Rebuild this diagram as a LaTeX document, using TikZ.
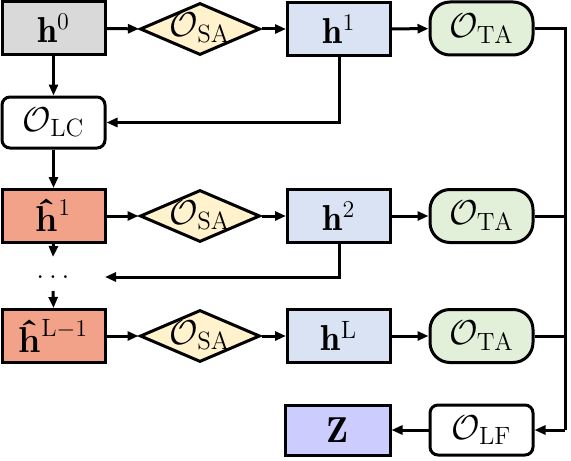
\documentclass[tikz,border=0pt]{standalone}
\usepackage{amsmath}
\usepackage{fontspec}
\usetikzlibrary{shapes.geometric,arrows.meta}
\DeclareMathSizes{18}{18}{12.5}{9}
\definecolor{cgray}{HTML}{D9D9D9}
\definecolor{cyel}{HTML}{FFF2CC}
\definecolor{cblue}{HTML}{DAE3F3}
\definecolor{cgreen}{HTML}{E2F0D9}
\definecolor{csalmon}{HTML}{F3A28A}
\definecolor{cviolet}{HTML}{CCCCFF}
\tikzset{
  base/.style={draw=black, line width=1.5pt, inner sep=0pt, font=\fontsize{18}{21}\selectfont},
  sqbox/.style={base, rectangle, minimum width=51.5pt, minimum height=26.5pt},
  rbox/.style={base, rectangle, rounded corners=4pt, minimum width=51.5pt, minimum height=25.5pt, fill=white},
  tabox/.style={base, rectangle, rounded corners=10pt, minimum width=51.5pt, minimum height=26.5pt, fill=cgreen},
  sabox/.style={base, diamond, aspect=2.3, minimum width=60pt, minimum height=26pt, fill=cyel},
  conn/.style={line width=1.5pt, -{Triangle[length=5.5pt,width=4.5pt]}},
  plainconn/.style={line width=1.5pt}
}
\newcommand{\dmtext}[1]{\smash{\raisebox{-4pt}{\makebox[0pt]{#1}}}}
\newcommand{\hhat}{{\smash{\text{\bfseries ĥ}}\vphantom{\mathbf{h}}}}
\begin{document}
\begin{tikzpicture}[x=0.5pt,y=-0.5pt]
\useasboundingbox (0,0) rectangle (571,460);
% row 1
\node[sqbox, fill=cgray] (h0) at (53.5,28.5) {$\mathbf{h}^{0}$};
\node[sabox] (sa1) at (200,29) {\dmtext{$\mathcal{O}_{\mathrm{SA}}$}};
\node[sqbox, fill=cblue] (h1) at (339,29) {$\mathbf{h}^{1}$};
\node[tabox] (ta1) at (481.5,28.5) {$\mathcal{O}_{\mathrm{TA}}$};
% LC
\node[rbox] (lc) at (53.5,122.5) {$\mathcal{O}_{\mathrm{LC}}$};
% row 2
\node[sqbox, fill=csalmon] (hh1) at (53.5,216) {$\hhat^{1}$};
\node[sabox] (sa2) at (200,216) {\dmtext{$\mathcal{O}_{\mathrm{SA}}$}};
\node[sqbox, fill=cblue] (h2) at (339,216) {$\mathbf{h}^{2}$};
\node[tabox] (ta2) at (481.5,216) {$\mathcal{O}_{\mathrm{TA}}$};
% dots
\node[inner sep=0pt, font=\fontsize{14}{16}\selectfont] (dots) at (53,277) {$\ldots$};
\coordinate (dotsin) at (53,257);
\coordinate (dotsout) at (53,291);
\coordinate (dotsr) at (105,277);
% row 3
\node[sqbox, fill=csalmon] (hhL) at (53.5,336) {$\hhat^{\mathrm{L}-1}$};
\node[sabox] (sa3) at (200,336) {\dmtext{$\mathcal{O}_{\mathrm{SA}}$}};
\node[sqbox, fill=cblue] (hL) at (339,336) {$\mathbf{h}^{\mathrm{L}}$};
\node[tabox] (ta3) at (481.5,336) {$\mathcal{O}_{\mathrm{TA}}$};
% row 4
\node[sqbox, fill=cviolet, minimum width=52.5pt, minimum height=25pt] (z) at (337.5,430) {$\mathbf{Z}$};
\node[rbox, minimum height=25pt] (lf) at (481.5,430) {$\mathcal{O}_{\mathrm{LF}}$};
% bus
\coordinate (bus1) at (565,28.5);
\coordinate (bus2) at (565,216);
\coordinate (bus3) at (565,336);
\coordinate (bus4) at (565,430);
% connectors
\draw[conn] (h0) -- (sa1);
\draw[conn] (sa1) -- (h1);
\draw[conn] (h1) -- (ta1);
\draw[conn] (h0) -- (lc);
\draw[conn] (h1.south) |- (lc.east);
\draw[conn] (lc) -- (hh1);
\draw[conn] (hh1) -- (sa2);
\draw[conn] (sa2) -- (h2);
\draw[conn] (h2) -- (ta2);
\draw[conn] (hh1.south) -- (dotsin);
\draw[conn] (h2.south) |- (dotsr);
\draw[conn] (dotsout) -- (hhL.north);
\draw[conn] (hhL) -- (sa3);
\draw[conn] (sa3) -- (hL);
\draw[conn] (hL) -- (ta3);
\draw[plainconn] (ta1.east) -- (bus1) -- (bus4);
\draw[plainconn] (ta2.east) -- (bus2);
\draw[plainconn] (ta3.east) -- (bus3);
\draw[conn] (bus4) -- (lf.east);
\draw[conn] (lf) -- (z);
\end{tikzpicture}
\end{document}
